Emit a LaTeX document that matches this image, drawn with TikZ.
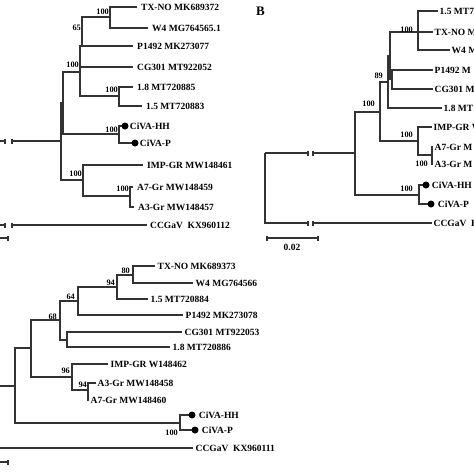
\documentclass[tikz,border=0pt]{standalone}
\usepackage{fontspec}
\setmainfont{Liberation Serif}
\begin{document}
\begin{tikzpicture}[x=1pt,y=-1pt,
  tree/.style={draw=black!80,line width=1.3pt},
  lab/.style={anchor=west,inner xsep=4pt,inner ysep=0pt,font=\bfseries\fontsize{9.5}{11}\selectfont},
  labB/.style={lab,inner xsep=1.5pt},
  labC/.style={lab,inner xsep=2.5pt},
  bs/.style={anchor=east,inner sep=0pt,font=\bfseries\fontsize{8.3}{9}\selectfont},
  dotn/.style={circle,fill=black,inner sep=0pt,minimum size=7pt}]
\useasboundingbox (0,0) rectangle (474,474);

% ---------------- Panel A ----------------
\coordinate (aTX) at (110,17);
\coordinate (a65) at (82,46);
\coordinate (a100) at (80,72);
\coordinate (a18) at (119,96);
\coordinate (aIn) at (63,103);
\coordinate (aCi) at (119,134);
\coordinate (aRt) at (61,141);
\coordinate (aIMP) at (83,180);
\coordinate (aA7) at (130,196);
\coordinate (aR0) at (0,141);
\coordinate (aR1) at (5,141);
\coordinate (aR2) at (12,141);
\coordinate (aC0) at (0,225);
\coordinate (aC1) at (5,225);
\coordinate (aC2) at (12,225);
\coordinate (aS0) at (0,238);
\coordinate (aS1) at (8,238);

\node[lab] (tA1) at (137,7) {TX-NO MK689372};
\node[lab] (tA2) at (148,28) {W4 MG764565.1};
\node[lab] (tA3) at (133,46) {P1492 MK273077};
\node[lab] (tA4) at (133,67) {CG301 MT922052};
\node[lab] (tA5) at (133,87) {1.8 MT720885};
\node[lab] (tA6) at (142,106) {1.5 MT720883};
\node[lab] (tA9) at (143,165) {IMP-GR MW148461};
\node[lab] (tA10) at (133,187) {A7-Gr MW148459};
\node[lab] (tA11) at (134,207) {A3-Gr MW148457};
\node[lab,inner xsep=3pt] (tA12) at (147,225) {CCGaV\ \ KX960112};

\draw[tree] (aTX) |- (tA1.west);
\draw[tree] (aTX) |- (tA2.west);
\draw[tree] (a65) |- (aTX);
\draw[tree] (a65) |- (tA3.west);
\draw[tree] (a100) |- (a65);
\draw[tree] (a100) |- (tA4.west);
\draw[tree] (a100) |- (a18);
\draw[tree] (a18) |- (tA5.west);
\draw[tree] (a18) |- (tA6.west);
\draw[tree] (aIn) |- (a100);
\draw[tree] (aIn) |- (aCi);
\draw[tree] (aCi) |- (125,126);
\draw[tree] (aCi) |- (135,143);
\draw[tree] (aRt) |- (aIn);
\draw[tree] (aRt) |- (aIMP);
\draw[tree] (aIMP) |- (tA9.west);
\draw[tree] (aIMP) |- (aA7);
\draw[tree] (aA7) |- (tA10.west);
\draw[tree] (aA7) |- (tA11.west);
\draw[tree] (aR0) -- (aR1);
\draw[tree] (aR2) -- (aRt);
\draw[tree] ([yshift=2.5pt]aR1) -- ([yshift=-2.5pt]aR1);
\draw[tree] ([yshift=2.5pt]aR2) -- ([yshift=-2.5pt]aR2);
\draw[tree] (aC0) -- (aC1);
\draw[tree] (aC2) -- (tA12.west);
\draw[tree] ([yshift=2.5pt]aC1) -- ([yshift=-2.5pt]aC1);
\draw[tree] ([yshift=2.5pt]aC2) -- ([yshift=-2.5pt]aC2);
\draw[tree] (aS0) -- (aS1);
\draw[tree] ([yshift=2.5pt]aS1) -- ([yshift=-2.5pt]aS1);

\node[dotn] (dA1) at (125,126) {};
\node[dotn] (dA2) at (135,143) {};
\node[lab,inner xsep=1pt] (tA7) at (dA1.east) {CiVA-HH};
\node[lab,inner xsep=1pt] (tA8) at (dA2.east) {CiVA-P};

\node[bs] (bA1) at (109,12) {100};
\node[bs] (bA2) at (81,28) {65};
\node[bs] (bA3) at (79,65) {100};
\node[bs] (bA4) at (118,90) {100};
\node[bs] (bA5) at (118,130) {100};
\node[bs] (bA6) at (82,174) {100};
\node[bs] (bA7) at (129,189) {100};

% ---------------- Panel B ----------------
\node[font=\bfseries\fontsize{13}{14}\selectfont,anchor=west,inner sep=0pt] (lblB) at (256,11) {B};
\coordinate (bRt) at (265,153);
\coordinate (bMain) at (355,153);
\coordinate (b100) at (380,112);
\coordinate (b89) at (388,82);
\coordinate (bBig) at (390,56);
\coordinate (bP14) at (392,79);
\coordinate (b15) at (418,32);
\coordinate (bIMP) at (418,141);
\coordinate (bA7) at (432,155);
\coordinate (bCi) at (419,195);
\coordinate (bB1) at (308,153);
\coordinate (bB2) at (313,153);
\coordinate (bC1) at (308,223);
\coordinate (bC2) at (313,223);
\coordinate (bS0) at (267,238);
\coordinate (bS1) at (318,238);

\node[labB] (tB1) at (438,11) {1.5 MT7};
\node[labB] (tB2) at (433,32) {TX-NO M};
\node[labB] (tB3) at (450,50) {W4 M};
\node[labB] (tB4) at (433,70) {P1492 M};
\node[labB] (tB5) at (433,89) {CG301 M};
\node[labB] (tB6) at (442,108) {1.8 MT};
\node[labB] (tB7) at (432,127) {IMP-GR W};
\node[labB] (tB8) at (433,147) {A7-Gr M};
\node[labB] (tB9) at (433,164) {A3-Gr M};
\node[labB] (tB12) at (432,223) {CCGaV\ \ K};

\draw[tree] (b15) |- (tB1.west);
\draw[tree] (b15) |- (tB2.west);
\draw[tree] (b15) |- (tB3.west);
\draw[tree] (bP14) |- (tB4.west);
\draw[tree] (bP14) |- (tB5.west);
\draw[tree] (bBig) |- (b15);
\draw[tree] (bBig) |- (bP14);
\draw[tree] (b89) |- (bBig);
\draw[tree] (b89) |- (tB6.west);
\draw[tree] (b100) |- (b89);
\draw[tree] (b100) |- (bIMP);
\draw[tree] (bIMP) |- (tB7.west);
\draw[tree] (bIMP) |- (bA7);
\draw[tree] (bA7) |- (tB8.west);
\draw[tree] (bA7) |- (tB9.west);
\draw[tree] (bMain) |- (b100);
\draw[tree] (bMain) |- (bCi);
\draw[tree] (bCi) |- (426,185);
\draw[tree] (bCi) |- (431,204);
\draw[tree] (bRt) -- (bB1);
\draw[tree] (bB2) -- (bMain);
\draw[tree] (bRt) |- (bC1);
\draw[tree] (bC2) -- (tB12.west);
\foreach \c in {bB1,bB2,bC1,bC2}{\draw[tree] ([yshift=2.5pt]\c) -- ([yshift=-2.5pt]\c);}
\draw[tree] (bS0) -- (bS1);
\draw[tree] ([yshift=2.5pt]bS0) -- ([yshift=-2.5pt]bS0);
\draw[tree] ([yshift=2.5pt]bS1) -- ([yshift=-2.5pt]bS1);
\node[font=\bfseries\fontsize{9.5}{11}\selectfont,inner sep=0pt] (sB) at (292,247) {0.02};

\node[dotn] (dB1) at (426,185) {};
\node[dotn] (dB2) at (431,204) {};
\node[lab,inner xsep=2pt] (tB10) at (dB1.east) {CiVA-HH};
\node[lab,inner xsep=3pt] (tB11) at (dB2.east) {CiVA-P};

\node[bs] (bB1l) at (413,30) {100};
\node[bs] (bB2l) at (383,76) {89};
\node[bs] (bB3l) at (375,104) {100};
\node[bs] (bB4l) at (413,135) {100};
\node[bs] (bB5l) at (428,164) {100};
\node[bs] (bB6l) at (413,189) {100};

% ---------------- Panel C ----------------
\coordinate (cRt) at (15,386);
\coordinate (c31) at (31,348);
\coordinate (c68) at (60,320);
\coordinate (c64) at (78,301);
\coordinate (c94) at (117,287);
\coordinate (c80) at (133,275);
\coordinate (cCG) at (67,340);
\coordinate (c96) at (72,377);
\coordinate (c94b) at (88,390);
\coordinate (cCi) at (180,423);
\coordinate (cR0) at (0,386);
\coordinate (cC0) at (0,448);
\coordinate (cS0) at (0,462);
\coordinate (cS1) at (8,462);

\node[labC] (tC1) at (155,266) {TX-NO MK689373};
\node[labC] (tC2) at (193,283) {W4 MG764566};
\node[labC] (tC3) at (148,299) {1.5 MT720884};
\node[labC] (tC4) at (183,315) {P1492 MK273078};
\node[labC] (tC5) at (182,332) {CG301 MT922053};
\node[labC] (tC6) at (170,347) {1.8 MT720886};
\node[labC] (tC7) at (108,364) {IMP-GR W148462};
\node[labC,inner xsep=1.5pt] (tC8) at (96,383) {A3-Gr MW148458};
\node[labC,inner xsep=1.5pt] (tC9) at (89,400) {A7-Gr MW148460};
\node[labC] (tC12) at (193,448) {CCGaV\ \ KX960111};

\draw[tree] (c80) |- (tC1.west);
\draw[tree] (c80) |- (tC2.west);
\draw[tree] (c94) |- (c80);
\draw[tree] (c94) |- (tC3.west);
\draw[tree] (c64) |- (c94);
\draw[tree] (c64) |- (tC4.west);
\draw[tree] (cCG) |- (tC5.west);
\draw[tree] (cCG) |- (tC6.west);
\draw[tree] (c68) |- (c64);
\draw[tree] (c68) |- (cCG);
\draw[tree] (c94b) |- (tC8.west);
\draw[tree] (c94b) |- (tC9.west);
\draw[tree] (c96) |- (tC7.west);
\draw[tree] (c96) |- (c94b);
\draw[tree] (c31) |- (c68);
\draw[tree] (c31) |- (c96);
\draw[tree] (cCi) |- (192,415);
\draw[tree] (cCi) |- (195,430);
\draw[tree] (cRt) |- (c31);
\draw[tree] (cRt) |- (cCi);
\draw[tree] (cR0) -- (cRt);
\draw[tree] (cC0) -- (tC12.west);
\draw[tree] (cS0) -- (cS1);
\draw[tree] ([yshift=2.5pt]cS1) -- ([yshift=-2.5pt]cS1);

\node[dotn] (dC1) at (192,415) {};
\node[dotn] (dC2) at (195,430) {};
\node[lab,inner xsep=3pt] (tC10) at (dC1.east) {CiVA-HH};
\node[lab,inner xsep=3pt] (tC11) at (dC2.east) {CiVA-P};

\node[bs] (bC1l) at (130,271) {80};
\node[bs] (bC2l) at (115,283) {94};
\node[bs] (bC3l) at (75,297) {64};
\node[bs] (bC4l) at (57,317) {68};
\node[bs] (bC5l) at (70,371) {96};
\node[bs] (bC6l) at (87,385) {94};
\node[bs] (bC7l) at (178,433) {100};
\end{tikzpicture}
\end{document}
